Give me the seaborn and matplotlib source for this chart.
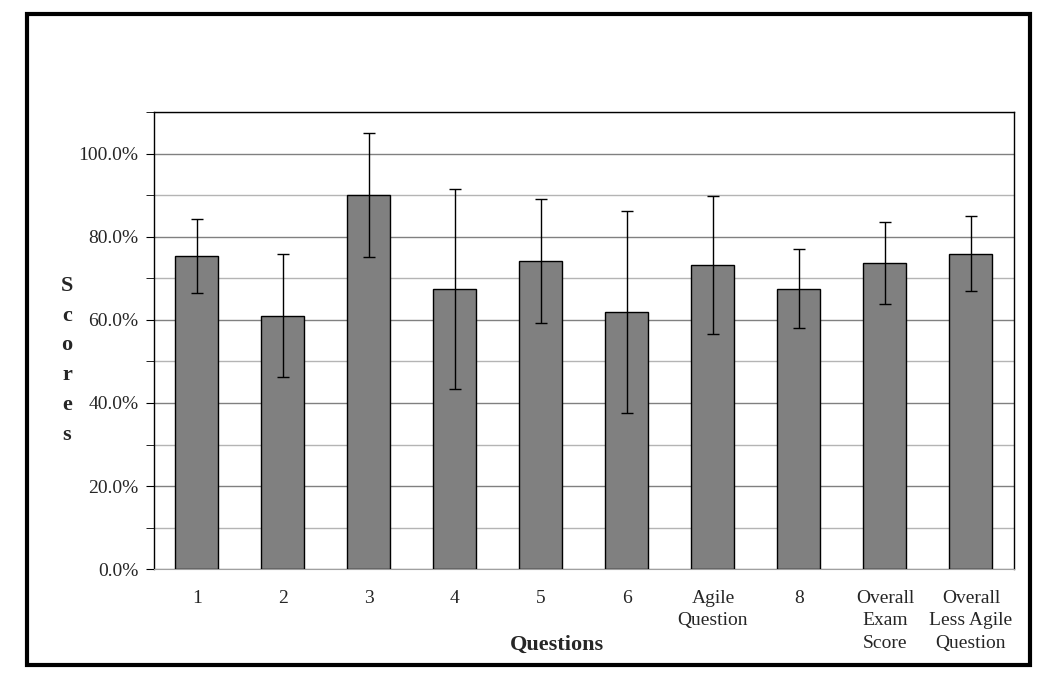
import matplotlib
matplotlib.use("Agg")
import matplotlib.pyplot as plt
import matplotlib.patches as patches
from matplotlib.ticker import FuncFormatter, MultipleLocator, FixedLocator
import seaborn as sns

# %%
questions = ["1", "2", "3", "4", "5", "6", "Agile\nQuestion", "8",
             "Overall\nExam\nScore", "Overall\nLess Agile\nQuestion"]
scores = [75.4, 61.0, 90.1, 67.5, 74.2, 61.9, 73.2, 67.5, 73.7, 75.9]
errors = [8.9, 14.8, 14.9, 24.1, 15.0, 24.4, 16.6, 9.5, 9.9, 9.0]

# %%
sns.set_style("white")
plt.rcParams["font.family"] = ["Liberation Serif", "DejaVu Serif"]

fig = plt.figure(figsize=(10.4, 6.8), dpi=100)
ax = fig.add_axes([0.148, 0.163, 0.827, 0.672])

sns.barplot(x=questions, y=scores, color="#808080", edgecolor="black",
            linewidth=1, width=0.5, saturation=1, ax=ax, zorder=3)
ax.errorbar(range(len(scores)), scores, yerr=errors, fmt="none",
            ecolor="black", elinewidth=1, capsize=4, capthick=1, zorder=4)

ax.set_ylim(0, 110)
ax.set_xlim(-0.5, len(questions) - 0.5)
ax.yaxis.set_major_locator(MultipleLocator(20))
ax.yaxis.set_minor_locator(MultipleLocator(10))
ax.yaxis.set_major_formatter(FuncFormatter(lambda v, p: f"{v:.1f}%"))
ax.grid(True, which="major", axis="y", color="#808080", linewidth=1, zorder=0)
ax.grid(True, which="minor", axis="y", color="#b4b4b4", linewidth=1, zorder=0)
ax.set_axisbelow(True)

ax.xaxis.set_minor_locator(FixedLocator([i - 0.5 for i in range(len(questions) + 1)]))
ax.tick_params(axis="x", which="major", length=0, pad=15, labelsize=14)
ax.tick_params(axis="x", which="minor", length=7, color="#a0a0a0", direction="out")
ax.tick_params(axis="y", which="both", length=6, color="black", direction="out",
               left=True, labelsize=14, pad=5)
for lbl in ax.get_xticklabels():
    lbl.set_linespacing(1.42)

for s in ["left", "top", "right"]:
    ax.spines[s].set_color("black")
    ax.spines[s].set_linewidth(1)
ax.spines["bottom"].set_color("#a0a0a0")

ax.set_xlabel("Questions", fontsize=16, fontweight="bold", va="center")
ax.xaxis.set_label_coords(0.469, -0.165)
ax.set_ylabel("S\nc\no\nr\ne\ns", fontsize=16, fontweight="bold",
              rotation=0, va="center", ha="center", linespacing=1.65)
ax.yaxis.set_label_coords(-0.101, 0.457)

frame = patches.Rectangle((0.026, 0.022), 0.964, 0.958, transform=fig.transFigure,
                          fill=False, edgecolor="black", linewidth=3)
fig.patches.append(frame)

fig.savefig("out.png", dpi=100)
